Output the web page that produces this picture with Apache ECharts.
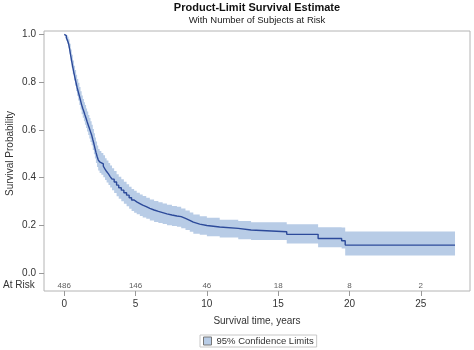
<!DOCTYPE html>
<html><head><meta charset="utf-8">
<script src="https://cdn.jsdelivr.net/npm/echarts@6/dist/echarts.min.js"></script>
<style>html,body{margin:0;padding:0;background:#fff}#c{width:474px;height:350px}</style>
</head><body><div id="c"></div>
<script>
var times = [0,0.08,0.15,0.22,0.30,0.37,0.45,0.52,0.60,0.68,0.75,0.83,0.90,0.98,1.06,1.14,1.22,1.30,1.38,1.45,1.53,1.60,1.68,1.76,1.84,1.92,2.00,2.08,2.15,2.22,2.30,2.38,2.48,2.60,2.74,2.86,2.97,3.10,3.22,3.35,3.50,3.67,3.82,4.00,4.18,4.37,4.55,4.72,4.90,5.08,5.30,5.50,5.75,6.00,6.30,6.60,6.90,7.20,7.55,7.90,8.20,8.50,8.80,9.05,9.50,10.0,10.9,12.2,13.1,15.6,17.8,19.45,19.7,27.4];
var survival = [1.000,0.994,0.985,0.975,0.962,0.940,0.912,0.888,0.862,0.838,0.818,0.797,0.778,0.760,0.742,0.724,0.705,0.690,0.676,0.663,0.649,0.635,0.621,0.607,0.593,0.579,0.560,0.542,0.524,0.507,0.490,0.475,0.466,0.458,0.448,0.436,0.426,0.416,0.405,0.394,0.382,0.369,0.358,0.348,0.337,0.327,0.316,0.307,0.299,0.292,0.285,0.279,0.272,0.265,0.259,0.254,0.249,0.244,0.240,0.237,0.230,0.222,0.214,0.206,0.200,0.194,0.188,0.181,0.174,0.163,0.146,0.136,0.118,0.118];
var lowerCL = [1.000,0.986,0.973,0.960,0.944,0.919,0.887,0.861,0.833,0.807,0.785,0.763,0.743,0.723,0.704,0.686,0.666,0.651,0.636,0.622,0.608,0.593,0.579,0.564,0.550,0.536,0.516,0.498,0.480,0.462,0.445,0.430,0.420,0.412,0.402,0.390,0.380,0.370,0.359,0.348,0.336,0.323,0.312,0.302,0.291,0.281,0.270,0.261,0.253,0.247,0.240,0.234,0.228,0.221,0.215,0.211,0.206,0.201,0.198,0.195,0.189,0.181,0.174,0.166,0.161,0.155,0.150,0.143,0.139,0.125,0.109,0.104,0.075,0.075];
var upperCL = [1.000,1.000,0.997,0.990,0.980,0.961,0.937,0.915,0.891,0.869,0.851,0.831,0.813,0.797,0.780,0.762,0.744,0.729,0.716,0.704,0.690,0.677,0.663,0.650,0.636,0.622,0.604,0.586,0.568,0.552,0.535,0.520,0.512,0.504,0.494,0.482,0.472,0.462,0.451,0.440,0.428,0.415,0.404,0.394,0.383,0.373,0.362,0.353,0.345,0.337,0.330,0.324,0.316,0.309,0.303,0.297,0.292,0.287,0.282,0.279,0.271,0.263,0.254,0.246,0.239,0.233,0.224,0.219,0.214,0.205,0.193,0.192,0.175,0.175];
var riskTimes = [0,5,10,15,20,25];
var atRisk = [486,146,46,18,8,2];
var xTicks = [0,5,10,15,20,25];
var yTicks = [0,0.2,0.4,0.6,0.8,1.0];

var chart = echarts.init(document.getElementById('c'));
var lineData = times.map(function(t,i){return [t, survival[i]];});
var riskData = riskTimes.map(function(t,i){return [t, -0.053, atRisk[i]];});
var txt = '#333';
var band = '#b8cce6';
var font = 'Liberation Sans, Arial, sans-serif';

function bandItem(params, api) {
  var n = times.length, pts = [], i;
  for (i = 0; i < n; i++) {
    pts.push(api.coord([times[i], upperCL[i]]));
    if (i < n - 1) pts.push(api.coord([times[i + 1], upperCL[i]]));
  }
  for (i = n - 1; i >= 0; i--) {
    if (i < n - 1) pts.push(api.coord([times[i + 1], lowerCL[i]]));
    pts.push(api.coord([times[i], lowerCL[i]]));
  }
  return {type:'polygon', shape:{points:pts}, style:{fill:band, stroke:null}};
}

chart.setOption({
  animation:false,
  textStyle:{fontFamily:font},
  title:{
    text:'Product-Limit Survival Estimate',
    subtext:'With Number of Subjects at Risk',
    left:257, top:2, padding:0, itemGap:2, textAlign:'center',
    textStyle:{fontSize:11, fontWeight:'bold', color:'#111', fontFamily:font},
    subtextStyle:{fontSize:9.5, color:'#222', fontFamily:font}
  },
  legend:{
    bottom:3, left:200, padding:[1,3,1,3], borderColor:'#c8c8c8', borderWidth:1,
    itemWidth:8, itemHeight:8, itemGap:5,
    textStyle:{fontSize:9.5, color:txt, fontFamily:font},
    data:[{name:'95% Confidence Limits', icon:'rect', itemStyle:{color:band, borderColor:'#777', borderWidth:1}}]
  },
  grid:{left:44, right:4, top:31, bottom:59, show:true, borderColor:'#b4b4b4', borderWidth:1, containLabel:false, outerBoundsMode:'none'},
  xAxis:{
    type:'value', min:-1.42, max:28.45,
    name:'Survival time, years', nameLocation:'middle', nameGap:25,
    nameTextStyle:{fontSize:10, color:txt},
    axisLine:{show:false, onZero:false},
    splitLine:{show:false},
    axisTick:{show:true, customValues:xTicks, length:5, lineStyle:{color:'#999'}},
    axisLabel:{customValues:xTicks, fontSize:10, color:txt, margin:8}
  },
  yAxis:{
    type:'value', min:-0.074, max:1.014,
    name:'Survival Probability', nameLocation:'middle', nameGap:29, nameMoveOverlap:false,
    nameTextStyle:{fontSize:10, color:txt, padding:[0,0,0,15]},
    axisLine:{show:false, onZero:false},
    splitLine:{show:false},
    axisTick:{show:true, customValues:yTicks, length:5, lineStyle:{color:'#999'}},
    axisLabel:{customValues:yTicks, fontSize:10, color:txt, margin:8, formatter:function(v){return v.toFixed(1);}}
  },
  graphic:[{type:'text', left:3, top:280, style:{text:'At Risk', fontSize:10, fill:txt, fontFamily:font}}],
  series:[
    {type:'custom', name:'95% Confidence Limits', data:[[0, 0]], renderItem:bandItem, itemStyle:{color:band}, silent:true, z:1},
    {type:'line', name:'Survival', data:lineData, step:'end', symbol:'none', lineStyle:{width:1.4, color:'#2c4a9a'}, z:3},
    {type:'scatter', name:'risk', data:riskData, symbolSize:0, silent:true, z:4,
     label:{show:true, position:'inside', fontSize:8, color:txt, formatter:function(p){return String(p.value[2]);}}}
  ]
});
</script></body></html>
